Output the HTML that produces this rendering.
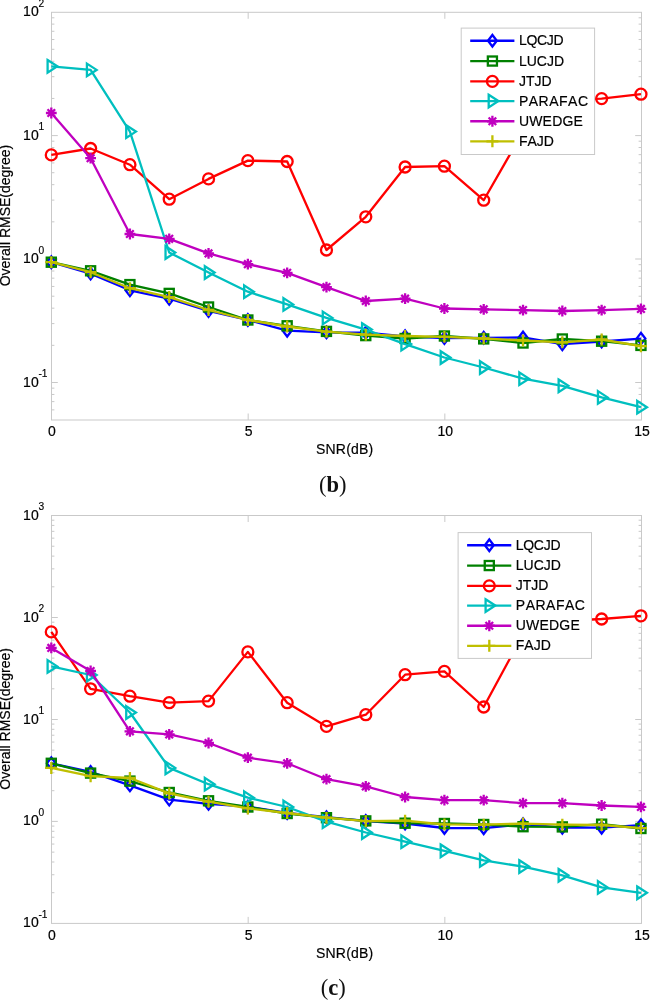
<!DOCTYPE html>
<html><head><meta charset="utf-8"><title>Overall RMSE vs SNR</title>
<style>
html,body{margin:0;padding:0;background:#fff}
svg{display:block}
.t{font-family:"Liberation Sans",Arial,Helvetica,sans-serif;font-size:14px;fill:#000;stroke:#000;stroke-width:0.18px;font-kerning:none}
.e{font-family:"Liberation Sans",Arial,Helvetica,sans-serif;font-size:10.2px;fill:#000;stroke:#000;stroke-width:0.15px}
.cap{font-family:"Liberation Serif","Times New Roman",serif;font-size:22.5px;fill:#111}
</style></head><body>
<svg width="650" height="1000" viewBox="0 0 650 1000">
<rect width="650" height="1000" fill="#fff"/>
<g id="panel-b">
<rect x="51.5" y="12.3" width="590.0" height="407.70" fill="none" stroke="#c9c9c9" stroke-width="1"/>
<path d="M248.17 420.0v-6.5M248.17 12.3v6.5M444.83 420.0v-6.5M444.83 12.3v6.5M51.5 135.60h6.3M641.5 135.60h-6.3M51.5 98.44h2.9M641.5 98.44h-2.9M51.5 76.70h2.9M641.5 76.70h-2.9M51.5 61.28h2.9M641.5 61.28h-2.9M51.5 49.31h2.9M641.5 49.31h-2.9M51.5 39.54h2.9M641.5 39.54h-2.9M51.5 31.27h2.9M641.5 31.27h-2.9M51.5 24.11h2.9M641.5 24.11h-2.9M51.5 17.80h2.9M641.5 17.80h-2.9M51.5 259.00h6.3M641.5 259.00h-6.3M51.5 221.84h2.9M641.5 221.84h-2.9M51.5 200.10h2.9M641.5 200.10h-2.9M51.5 184.68h2.9M641.5 184.68h-2.9M51.5 172.71h2.9M641.5 172.71h-2.9M51.5 162.94h2.9M641.5 162.94h-2.9M51.5 154.67h2.9M641.5 154.67h-2.9M51.5 147.51h2.9M641.5 147.51h-2.9M51.5 141.20h2.9M641.5 141.20h-2.9M51.5 382.50h6.3M641.5 382.50h-6.3M51.5 345.34h2.9M641.5 345.34h-2.9M51.5 323.60h2.9M641.5 323.60h-2.9M51.5 308.18h2.9M641.5 308.18h-2.9M51.5 296.21h2.9M641.5 296.21h-2.9M51.5 286.44h2.9M641.5 286.44h-2.9M51.5 278.17h2.9M641.5 278.17h-2.9M51.5 271.01h2.9M641.5 271.01h-2.9M51.5 264.70h2.9M641.5 264.70h-2.9M51.5 409.89h2.9M641.5 409.89h-2.9M51.5 401.62h2.9M641.5 401.62h-2.9M51.5 394.46h2.9M641.5 394.46h-2.9M51.5 388.15h2.9M641.5 388.15h-2.9" fill="none" stroke="#c9c9c9" stroke-width="1"/>
<polyline points="51.30,262.20 90.61,273.60 129.92,290.30 169.23,298.70 208.54,311.00 247.85,320.00 287.16,330.70 326.47,332.40 365.78,332.70 405.09,336.30 444.40,338.10 483.71,337.80 523.02,337.50 562.33,344.20 601.64,341.50 640.95,338.60" fill="none" stroke="#0000ff" stroke-width="2.3" stroke-linejoin="round"/>
<path d="M46.90 262.20L51.30 256.40L55.70 262.20L51.30 268.00Z" fill="none" stroke="#0000ff" stroke-width="2.3"/>
<path d="M86.21 273.60L90.61 267.80L95.01 273.60L90.61 279.40Z" fill="none" stroke="#0000ff" stroke-width="2.3"/>
<path d="M125.52 290.30L129.92 284.50L134.32 290.30L129.92 296.10Z" fill="none" stroke="#0000ff" stroke-width="2.3"/>
<path d="M164.83 298.70L169.23 292.90L173.63 298.70L169.23 304.50Z" fill="none" stroke="#0000ff" stroke-width="2.3"/>
<path d="M204.14 311.00L208.54 305.20L212.94 311.00L208.54 316.80Z" fill="none" stroke="#0000ff" stroke-width="2.3"/>
<path d="M243.45 320.00L247.85 314.20L252.25 320.00L247.85 325.80Z" fill="none" stroke="#0000ff" stroke-width="2.3"/>
<path d="M282.76 330.70L287.16 324.90L291.56 330.70L287.16 336.50Z" fill="none" stroke="#0000ff" stroke-width="2.3"/>
<path d="M322.07 332.40L326.47 326.60L330.87 332.40L326.47 338.20Z" fill="none" stroke="#0000ff" stroke-width="2.3"/>
<path d="M361.38 332.70L365.78 326.90L370.18 332.70L365.78 338.50Z" fill="none" stroke="#0000ff" stroke-width="2.3"/>
<path d="M400.69 336.30L405.09 330.50L409.49 336.30L405.09 342.10Z" fill="none" stroke="#0000ff" stroke-width="2.3"/>
<path d="M440.00 338.10L444.40 332.30L448.80 338.10L444.40 343.90Z" fill="none" stroke="#0000ff" stroke-width="2.3"/>
<path d="M479.31 337.80L483.71 332.00L488.11 337.80L483.71 343.60Z" fill="none" stroke="#0000ff" stroke-width="2.3"/>
<path d="M518.62 337.50L523.02 331.70L527.42 337.50L523.02 343.30Z" fill="none" stroke="#0000ff" stroke-width="2.3"/>
<path d="M557.93 344.20L562.33 338.40L566.73 344.20L562.33 350.00Z" fill="none" stroke="#0000ff" stroke-width="2.3"/>
<path d="M597.24 341.50L601.64 335.70L606.04 341.50L601.64 347.30Z" fill="none" stroke="#0000ff" stroke-width="2.3"/>
<path d="M636.55 338.60L640.95 332.80L645.35 338.60L640.95 344.40Z" fill="none" stroke="#0000ff" stroke-width="2.3"/>
<polyline points="51.30,262.20 90.61,270.80 129.92,284.60 169.23,293.40 208.54,307.00 247.85,320.00 287.16,325.80 326.47,331.40 365.78,335.60 405.09,338.50 444.40,336.00 483.71,338.90 523.02,343.00 562.33,339.00 601.64,341.20 640.95,345.40" fill="none" stroke="#008000" stroke-width="2.3" stroke-linejoin="round"/>
<rect x="46.75" y="257.65" width="9.1" height="9.1" fill="none" stroke="#008000" stroke-width="2.3"/>
<rect x="86.06" y="266.25" width="9.1" height="9.1" fill="none" stroke="#008000" stroke-width="2.3"/>
<rect x="125.37" y="280.05" width="9.1" height="9.1" fill="none" stroke="#008000" stroke-width="2.3"/>
<rect x="164.68" y="288.85" width="9.1" height="9.1" fill="none" stroke="#008000" stroke-width="2.3"/>
<rect x="203.99" y="302.45" width="9.1" height="9.1" fill="none" stroke="#008000" stroke-width="2.3"/>
<rect x="243.30" y="315.45" width="9.1" height="9.1" fill="none" stroke="#008000" stroke-width="2.3"/>
<rect x="282.61" y="321.25" width="9.1" height="9.1" fill="none" stroke="#008000" stroke-width="2.3"/>
<rect x="321.92" y="326.85" width="9.1" height="9.1" fill="none" stroke="#008000" stroke-width="2.3"/>
<rect x="361.23" y="331.05" width="9.1" height="9.1" fill="none" stroke="#008000" stroke-width="2.3"/>
<rect x="400.54" y="333.95" width="9.1" height="9.1" fill="none" stroke="#008000" stroke-width="2.3"/>
<rect x="439.85" y="331.45" width="9.1" height="9.1" fill="none" stroke="#008000" stroke-width="2.3"/>
<rect x="479.16" y="334.35" width="9.1" height="9.1" fill="none" stroke="#008000" stroke-width="2.3"/>
<rect x="518.47" y="338.45" width="9.1" height="9.1" fill="none" stroke="#008000" stroke-width="2.3"/>
<rect x="557.78" y="334.45" width="9.1" height="9.1" fill="none" stroke="#008000" stroke-width="2.3"/>
<rect x="597.09" y="336.65" width="9.1" height="9.1" fill="none" stroke="#008000" stroke-width="2.3"/>
<rect x="636.40" y="340.85" width="9.1" height="9.1" fill="none" stroke="#008000" stroke-width="2.3"/>
<polyline points="51.30,154.90 90.61,148.50 129.92,164.70 169.23,199.20 208.54,178.90 247.85,160.60 287.16,161.50 326.47,250.00 365.78,216.80 405.09,167.00 444.40,166.20 483.71,200.20 523.02,131.70 562.33,100.20 601.64,98.60 640.95,94.20" fill="none" stroke="#ff0000" stroke-width="2.3" stroke-linejoin="round"/>
<circle cx="51.30" cy="154.90" r="5.5" fill="none" stroke="#ff0000" stroke-width="2.3"/>
<circle cx="90.61" cy="148.50" r="5.5" fill="none" stroke="#ff0000" stroke-width="2.3"/>
<circle cx="129.92" cy="164.70" r="5.5" fill="none" stroke="#ff0000" stroke-width="2.3"/>
<circle cx="169.23" cy="199.20" r="5.5" fill="none" stroke="#ff0000" stroke-width="2.3"/>
<circle cx="208.54" cy="178.90" r="5.5" fill="none" stroke="#ff0000" stroke-width="2.3"/>
<circle cx="247.85" cy="160.60" r="5.5" fill="none" stroke="#ff0000" stroke-width="2.3"/>
<circle cx="287.16" cy="161.50" r="5.5" fill="none" stroke="#ff0000" stroke-width="2.3"/>
<circle cx="326.47" cy="250.00" r="5.5" fill="none" stroke="#ff0000" stroke-width="2.3"/>
<circle cx="365.78" cy="216.80" r="5.5" fill="none" stroke="#ff0000" stroke-width="2.3"/>
<circle cx="405.09" cy="167.00" r="5.5" fill="none" stroke="#ff0000" stroke-width="2.3"/>
<circle cx="444.40" cy="166.20" r="5.5" fill="none" stroke="#ff0000" stroke-width="2.3"/>
<circle cx="483.71" cy="200.20" r="5.5" fill="none" stroke="#ff0000" stroke-width="2.3"/>
<circle cx="523.02" cy="131.70" r="5.5" fill="none" stroke="#ff0000" stroke-width="2.3"/>
<circle cx="562.33" cy="100.20" r="5.5" fill="none" stroke="#ff0000" stroke-width="2.3"/>
<circle cx="601.64" cy="98.60" r="5.5" fill="none" stroke="#ff0000" stroke-width="2.3"/>
<circle cx="640.95" cy="94.20" r="5.5" fill="none" stroke="#ff0000" stroke-width="2.3"/>
<polyline points="51.30,66.30 90.61,69.90 129.92,131.60 169.23,252.50 208.54,272.50 247.85,291.70 287.16,304.40 326.47,317.90 365.78,329.60 405.09,344.10 444.40,357.50 483.71,367.50 523.02,378.70 562.33,385.80 601.64,397.40 640.95,407.20" fill="none" stroke="#00bfbf" stroke-width="2.3" stroke-linejoin="round"/>
<path d="M47.60 60.00L57.30 66.30L47.60 72.60Z" fill="none" stroke="#00bfbf" stroke-width="2.3"/>
<path d="M86.91 63.60L96.61 69.90L86.91 76.20Z" fill="none" stroke="#00bfbf" stroke-width="2.3"/>
<path d="M126.22 125.30L135.92 131.60L126.22 137.90Z" fill="none" stroke="#00bfbf" stroke-width="2.3"/>
<path d="M165.53 246.20L175.23 252.50L165.53 258.80Z" fill="none" stroke="#00bfbf" stroke-width="2.3"/>
<path d="M204.84 266.20L214.54 272.50L204.84 278.80Z" fill="none" stroke="#00bfbf" stroke-width="2.3"/>
<path d="M244.15 285.40L253.85 291.70L244.15 298.00Z" fill="none" stroke="#00bfbf" stroke-width="2.3"/>
<path d="M283.46 298.10L293.16 304.40L283.46 310.70Z" fill="none" stroke="#00bfbf" stroke-width="2.3"/>
<path d="M322.77 311.60L332.47 317.90L322.77 324.20Z" fill="none" stroke="#00bfbf" stroke-width="2.3"/>
<path d="M362.08 323.30L371.78 329.60L362.08 335.90Z" fill="none" stroke="#00bfbf" stroke-width="2.3"/>
<path d="M401.39 337.80L411.09 344.10L401.39 350.40Z" fill="none" stroke="#00bfbf" stroke-width="2.3"/>
<path d="M440.70 351.20L450.40 357.50L440.70 363.80Z" fill="none" stroke="#00bfbf" stroke-width="2.3"/>
<path d="M480.01 361.20L489.71 367.50L480.01 373.80Z" fill="none" stroke="#00bfbf" stroke-width="2.3"/>
<path d="M519.32 372.40L529.02 378.70L519.32 385.00Z" fill="none" stroke="#00bfbf" stroke-width="2.3"/>
<path d="M558.63 379.50L568.33 385.80L558.63 392.10Z" fill="none" stroke="#00bfbf" stroke-width="2.3"/>
<path d="M597.94 391.10L607.64 397.40L597.94 403.70Z" fill="none" stroke="#00bfbf" stroke-width="2.3"/>
<path d="M637.25 400.90L646.95 407.20L637.25 413.50Z" fill="none" stroke="#00bfbf" stroke-width="2.3"/>
<polyline points="51.30,113.00 90.61,158.20 129.92,234.00 169.23,238.80 208.54,253.40 247.85,264.20 287.16,272.80 326.47,287.10 365.78,301.00 405.09,298.70 444.40,308.50 483.71,309.30 523.02,310.10 562.33,311.00 601.64,310.10 640.95,308.90" fill="none" stroke="#bf00bf" stroke-width="2.3" stroke-linejoin="round"/>
<path d="M45.90 113.00H56.70M51.30 107.60V118.40M47.50 109.20L55.10 116.80M47.50 116.80L55.10 109.20" fill="none" stroke="#bf00bf" stroke-width="2.3"/>
<path d="M85.21 158.20H96.01M90.61 152.80V163.60M86.81 154.40L94.41 162.00M86.81 162.00L94.41 154.40" fill="none" stroke="#bf00bf" stroke-width="2.3"/>
<path d="M124.52 234.00H135.32M129.92 228.60V239.40M126.12 230.20L133.72 237.80M126.12 237.80L133.72 230.20" fill="none" stroke="#bf00bf" stroke-width="2.3"/>
<path d="M163.83 238.80H174.63M169.23 233.40V244.20M165.43 235.00L173.03 242.60M165.43 242.60L173.03 235.00" fill="none" stroke="#bf00bf" stroke-width="2.3"/>
<path d="M203.14 253.40H213.94M208.54 248.00V258.80M204.74 249.60L212.34 257.20M204.74 257.20L212.34 249.60" fill="none" stroke="#bf00bf" stroke-width="2.3"/>
<path d="M242.45 264.20H253.25M247.85 258.80V269.60M244.05 260.40L251.65 268.00M244.05 268.00L251.65 260.40" fill="none" stroke="#bf00bf" stroke-width="2.3"/>
<path d="M281.76 272.80H292.56M287.16 267.40V278.20M283.36 269.00L290.96 276.60M283.36 276.60L290.96 269.00" fill="none" stroke="#bf00bf" stroke-width="2.3"/>
<path d="M321.07 287.10H331.87M326.47 281.70V292.50M322.67 283.30L330.27 290.90M322.67 290.90L330.27 283.30" fill="none" stroke="#bf00bf" stroke-width="2.3"/>
<path d="M360.38 301.00H371.18M365.78 295.60V306.40M361.98 297.20L369.58 304.80M361.98 304.80L369.58 297.20" fill="none" stroke="#bf00bf" stroke-width="2.3"/>
<path d="M399.69 298.70H410.49M405.09 293.30V304.10M401.29 294.90L408.89 302.50M401.29 302.50L408.89 294.90" fill="none" stroke="#bf00bf" stroke-width="2.3"/>
<path d="M439.00 308.50H449.80M444.40 303.10V313.90M440.60 304.70L448.20 312.30M440.60 312.30L448.20 304.70" fill="none" stroke="#bf00bf" stroke-width="2.3"/>
<path d="M478.31 309.30H489.11M483.71 303.90V314.70M479.91 305.50L487.51 313.10M479.91 313.10L487.51 305.50" fill="none" stroke="#bf00bf" stroke-width="2.3"/>
<path d="M517.62 310.10H528.42M523.02 304.70V315.50M519.22 306.30L526.82 313.90M519.22 313.90L526.82 306.30" fill="none" stroke="#bf00bf" stroke-width="2.3"/>
<path d="M556.93 311.00H567.73M562.33 305.60V316.40M558.53 307.20L566.13 314.80M558.53 314.80L566.13 307.20" fill="none" stroke="#bf00bf" stroke-width="2.3"/>
<path d="M596.24 310.10H607.04M601.64 304.70V315.50M597.84 306.30L605.44 313.90M597.84 313.90L605.44 306.30" fill="none" stroke="#bf00bf" stroke-width="2.3"/>
<path d="M635.55 308.90H646.35M640.95 303.50V314.30M637.15 305.10L644.75 312.70M637.15 312.70L644.75 305.10" fill="none" stroke="#bf00bf" stroke-width="2.3"/>
<polyline points="51.30,262.20 90.61,272.20 129.92,288.20 169.23,297.10 208.54,310.00 247.85,320.00 287.16,326.50 326.47,331.70 365.78,334.70 405.09,336.00 444.40,336.80 483.71,338.50 523.02,340.50 562.33,342.30 601.64,339.50 640.95,346.20" fill="none" stroke="#bfbf00" stroke-width="2.3" stroke-linejoin="round"/>
<path d="M45.30 262.20H57.30M51.30 256.20V268.20" fill="none" stroke="#bfbf00" stroke-width="2.3"/>
<path d="M84.61 272.20H96.61M90.61 266.20V278.20" fill="none" stroke="#bfbf00" stroke-width="2.3"/>
<path d="M123.92 288.20H135.92M129.92 282.20V294.20" fill="none" stroke="#bfbf00" stroke-width="2.3"/>
<path d="M163.23 297.10H175.23M169.23 291.10V303.10" fill="none" stroke="#bfbf00" stroke-width="2.3"/>
<path d="M202.54 310.00H214.54M208.54 304.00V316.00" fill="none" stroke="#bfbf00" stroke-width="2.3"/>
<path d="M241.85 320.00H253.85M247.85 314.00V326.00" fill="none" stroke="#bfbf00" stroke-width="2.3"/>
<path d="M281.16 326.50H293.16M287.16 320.50V332.50" fill="none" stroke="#bfbf00" stroke-width="2.3"/>
<path d="M320.47 331.70H332.47M326.47 325.70V337.70" fill="none" stroke="#bfbf00" stroke-width="2.3"/>
<path d="M359.78 334.70H371.78M365.78 328.70V340.70" fill="none" stroke="#bfbf00" stroke-width="2.3"/>
<path d="M399.09 336.00H411.09M405.09 330.00V342.00" fill="none" stroke="#bfbf00" stroke-width="2.3"/>
<path d="M438.40 336.80H450.40M444.40 330.80V342.80" fill="none" stroke="#bfbf00" stroke-width="2.3"/>
<path d="M477.71 338.50H489.71M483.71 332.50V344.50" fill="none" stroke="#bfbf00" stroke-width="2.3"/>
<path d="M517.02 340.50H529.02M523.02 334.50V346.50" fill="none" stroke="#bfbf00" stroke-width="2.3"/>
<path d="M556.33 342.30H568.33M562.33 336.30V348.30" fill="none" stroke="#bfbf00" stroke-width="2.3"/>
<path d="M595.64 339.50H607.64M601.64 333.50V345.50" fill="none" stroke="#bfbf00" stroke-width="2.3"/>
<path d="M634.95 346.20H646.95M640.95 340.20V352.20" fill="none" stroke="#bfbf00" stroke-width="2.3"/>
<text x="52.00" y="436.30" text-anchor="middle" class="t">0</text>
<text x="248.67" y="436.30" text-anchor="middle" class="t">5</text>
<text x="445.33" y="436.30" text-anchor="middle" class="t">10</text>
<text x="642.00" y="436.30" text-anchor="middle" class="t">15</text>
<text x="23.1" y="16.30" class="t">10</text>
<text x="38.4" y="7.10" class="e">2</text>
<text x="23.1" y="139.60" class="t">10</text>
<text x="38.4" y="130.40" class="e">1</text>
<text x="23.1" y="263.00" class="t">10</text>
<text x="38.4" y="253.80" class="e">0</text>
<text x="23.1" y="386.50" class="t">10</text>
<text x="38.4" y="377.30" class="e">-1</text>
<text x="316" y="453.90" class="t" letter-spacing="0.2">SNR(dB)</text>
<text transform="translate(9.8 286.35) rotate(-90)" class="t">Overall RMSE(degree)</text>
<rect x="461.2" y="28.1" width="133.4" height="126.4" fill="#fff" stroke="#c9c9c9" stroke-width="1"/>
<path d="M470.20 40.75H514.40" stroke="#0000ff" stroke-width="2.3" fill="none"/>
<path d="M488.00 40.75L492.40 34.95L496.80 40.75L492.40 46.55Z" fill="none" stroke="#0000ff" stroke-width="2.3"/>
<text x="518.90" y="45.35" class="t" letter-spacing="-0.3">LQCJD</text>
<path d="M470.20 61.05H514.40" stroke="#008000" stroke-width="2.3" fill="none"/>
<rect x="487.85" y="56.50" width="9.1" height="9.1" fill="none" stroke="#008000" stroke-width="2.3"/>
<text x="518.90" y="65.65" class="t">LUCJD</text>
<path d="M470.20 81.35H514.40" stroke="#ff0000" stroke-width="2.3" fill="none"/>
<circle cx="492.40" cy="81.35" r="5.5" fill="none" stroke="#ff0000" stroke-width="2.3"/>
<text x="518.90" y="85.95" class="t">JTJD</text>
<path d="M470.20 101.05H514.40" stroke="#00bfbf" stroke-width="2.3" fill="none"/>
<path d="M488.70 94.75L498.40 101.05L488.70 107.35Z" fill="none" stroke="#00bfbf" stroke-width="2.3"/>
<text x="518.90" y="105.65" class="t" letter-spacing="0.5">PARAFAC</text>
<path d="M470.20 121.25H514.40" stroke="#bf00bf" stroke-width="2.3" fill="none"/>
<path d="M487.00 121.25H497.80M492.40 115.85V126.65M488.60 117.45L496.20 125.05M488.60 125.05L496.20 117.45" fill="none" stroke="#bf00bf" stroke-width="2.3"/>
<text x="518.90" y="125.85" class="t" letter-spacing="0.2">UWEDGE</text>
<path d="M470.20 141.35H514.40" stroke="#bfbf00" stroke-width="2.3" fill="none"/>
<path d="M486.40 141.35H498.40M492.40 135.35V147.35" fill="none" stroke="#bfbf00" stroke-width="2.3"/>
<text x="518.90" y="145.95" class="t">FAJD</text>
<text x="319.10" y="491.5" class="cap">(<tspan font-weight="bold">b</tspan>)</text>
</g>
<g id="panel-c">
<rect x="51.5" y="515.5" width="590.0" height="407.90" fill="none" stroke="#c9c9c9" stroke-width="1"/>
<path d="M248.17 923.4v-6.5M248.17 515.5v6.5M444.83 923.4v-6.5M444.83 515.5v6.5M51.5 617.50h6.3M641.5 617.50h-6.3M51.5 586.80h2.9M641.5 586.80h-2.9M51.5 568.85h2.9M641.5 568.85h-2.9M51.5 556.11h2.9M641.5 556.11h-2.9M51.5 546.23h2.9M641.5 546.23h-2.9M51.5 538.15h2.9M641.5 538.15h-2.9M51.5 531.33h2.9M641.5 531.33h-2.9M51.5 525.41h2.9M641.5 525.41h-2.9M51.5 520.20h2.9M641.5 520.20h-2.9M51.5 719.50h6.3M641.5 719.50h-6.3M51.5 688.80h2.9M641.5 688.80h-2.9M51.5 670.85h2.9M641.5 670.85h-2.9M51.5 658.11h2.9M641.5 658.11h-2.9M51.5 648.23h2.9M641.5 648.23h-2.9M51.5 640.15h2.9M641.5 640.15h-2.9M51.5 633.33h2.9M641.5 633.33h-2.9M51.5 627.41h2.9M641.5 627.41h-2.9M51.5 622.20h2.9M641.5 622.20h-2.9M51.5 821.40h6.3M641.5 821.40h-6.3M51.5 790.70h2.9M641.5 790.70h-2.9M51.5 772.75h2.9M641.5 772.75h-2.9M51.5 760.01h2.9M641.5 760.01h-2.9M51.5 750.13h2.9M641.5 750.13h-2.9M51.5 742.05h2.9M641.5 742.05h-2.9M51.5 735.23h2.9M641.5 735.23h-2.9M51.5 729.31h2.9M641.5 729.31h-2.9M51.5 724.10h2.9M641.5 724.10h-2.9M51.5 892.70h2.9M641.5 892.70h-2.9M51.5 874.75h2.9M641.5 874.75h-2.9M51.5 862.01h2.9M641.5 862.01h-2.9M51.5 852.13h2.9M641.5 852.13h-2.9M51.5 844.05h2.9M641.5 844.05h-2.9M51.5 837.23h2.9M641.5 837.23h-2.9M51.5 831.31h2.9M641.5 831.31h-2.9M51.5 826.10h2.9M641.5 826.10h-2.9" fill="none" stroke="#c9c9c9" stroke-width="1"/>
<polyline points="51.30,763.30 90.61,771.90 129.92,785.40 169.23,799.60 208.54,803.90 247.85,806.70 287.16,813.00 326.47,817.20 365.78,821.00 405.09,823.50 444.40,828.00 483.71,828.20 523.02,824.20 562.33,827.70 601.64,827.70 640.95,825.20" fill="none" stroke="#0000ff" stroke-width="2.3" stroke-linejoin="round"/>
<path d="M46.90 763.30L51.30 757.50L55.70 763.30L51.30 769.10Z" fill="none" stroke="#0000ff" stroke-width="2.3"/>
<path d="M86.21 771.90L90.61 766.10L95.01 771.90L90.61 777.70Z" fill="none" stroke="#0000ff" stroke-width="2.3"/>
<path d="M125.52 785.40L129.92 779.60L134.32 785.40L129.92 791.20Z" fill="none" stroke="#0000ff" stroke-width="2.3"/>
<path d="M164.83 799.60L169.23 793.80L173.63 799.60L169.23 805.40Z" fill="none" stroke="#0000ff" stroke-width="2.3"/>
<path d="M204.14 803.90L208.54 798.10L212.94 803.90L208.54 809.70Z" fill="none" stroke="#0000ff" stroke-width="2.3"/>
<path d="M243.45 806.70L247.85 800.90L252.25 806.70L247.85 812.50Z" fill="none" stroke="#0000ff" stroke-width="2.3"/>
<path d="M282.76 813.00L287.16 807.20L291.56 813.00L287.16 818.80Z" fill="none" stroke="#0000ff" stroke-width="2.3"/>
<path d="M322.07 817.20L326.47 811.40L330.87 817.20L326.47 823.00Z" fill="none" stroke="#0000ff" stroke-width="2.3"/>
<path d="M361.38 821.00L365.78 815.20L370.18 821.00L365.78 826.80Z" fill="none" stroke="#0000ff" stroke-width="2.3"/>
<path d="M400.69 823.50L405.09 817.70L409.49 823.50L405.09 829.30Z" fill="none" stroke="#0000ff" stroke-width="2.3"/>
<path d="M440.00 828.00L444.40 822.20L448.80 828.00L444.40 833.80Z" fill="none" stroke="#0000ff" stroke-width="2.3"/>
<path d="M479.31 828.20L483.71 822.40L488.11 828.20L483.71 834.00Z" fill="none" stroke="#0000ff" stroke-width="2.3"/>
<path d="M518.62 824.20L523.02 818.40L527.42 824.20L523.02 830.00Z" fill="none" stroke="#0000ff" stroke-width="2.3"/>
<path d="M557.93 827.70L562.33 821.90L566.73 827.70L562.33 833.50Z" fill="none" stroke="#0000ff" stroke-width="2.3"/>
<path d="M597.24 827.70L601.64 821.90L606.04 827.70L601.64 833.50Z" fill="none" stroke="#0000ff" stroke-width="2.3"/>
<path d="M636.55 825.20L640.95 819.40L645.35 825.20L640.95 831.00Z" fill="none" stroke="#0000ff" stroke-width="2.3"/>
<polyline points="51.30,763.30 90.61,773.10 129.92,781.10 169.23,792.50 208.54,800.80 247.85,807.00 287.16,813.50 326.47,817.70 365.78,820.90 405.09,823.20 444.40,823.50 483.71,824.50 523.02,826.70 562.33,826.90 601.64,824.20 640.95,828.50" fill="none" stroke="#008000" stroke-width="2.3" stroke-linejoin="round"/>
<rect x="46.75" y="758.75" width="9.1" height="9.1" fill="none" stroke="#008000" stroke-width="2.3"/>
<rect x="86.06" y="768.55" width="9.1" height="9.1" fill="none" stroke="#008000" stroke-width="2.3"/>
<rect x="125.37" y="776.55" width="9.1" height="9.1" fill="none" stroke="#008000" stroke-width="2.3"/>
<rect x="164.68" y="787.95" width="9.1" height="9.1" fill="none" stroke="#008000" stroke-width="2.3"/>
<rect x="203.99" y="796.25" width="9.1" height="9.1" fill="none" stroke="#008000" stroke-width="2.3"/>
<rect x="243.30" y="802.45" width="9.1" height="9.1" fill="none" stroke="#008000" stroke-width="2.3"/>
<rect x="282.61" y="808.95" width="9.1" height="9.1" fill="none" stroke="#008000" stroke-width="2.3"/>
<rect x="321.92" y="813.15" width="9.1" height="9.1" fill="none" stroke="#008000" stroke-width="2.3"/>
<rect x="361.23" y="816.35" width="9.1" height="9.1" fill="none" stroke="#008000" stroke-width="2.3"/>
<rect x="400.54" y="818.65" width="9.1" height="9.1" fill="none" stroke="#008000" stroke-width="2.3"/>
<rect x="439.85" y="818.95" width="9.1" height="9.1" fill="none" stroke="#008000" stroke-width="2.3"/>
<rect x="479.16" y="819.95" width="9.1" height="9.1" fill="none" stroke="#008000" stroke-width="2.3"/>
<rect x="518.47" y="822.15" width="9.1" height="9.1" fill="none" stroke="#008000" stroke-width="2.3"/>
<rect x="557.78" y="822.35" width="9.1" height="9.1" fill="none" stroke="#008000" stroke-width="2.3"/>
<rect x="597.09" y="819.65" width="9.1" height="9.1" fill="none" stroke="#008000" stroke-width="2.3"/>
<rect x="636.40" y="823.95" width="9.1" height="9.1" fill="none" stroke="#008000" stroke-width="2.3"/>
<polyline points="51.30,631.90 90.61,688.80 129.92,696.20 169.23,702.70 208.54,701.10 247.85,651.90 287.16,702.70 326.47,726.40 365.78,714.70 405.09,674.70 444.40,671.40 483.71,707.00 523.02,634.40 562.33,621.00 601.64,619.00 640.95,615.80" fill="none" stroke="#ff0000" stroke-width="2.3" stroke-linejoin="round"/>
<circle cx="51.30" cy="631.90" r="5.5" fill="none" stroke="#ff0000" stroke-width="2.3"/>
<circle cx="90.61" cy="688.80" r="5.5" fill="none" stroke="#ff0000" stroke-width="2.3"/>
<circle cx="129.92" cy="696.20" r="5.5" fill="none" stroke="#ff0000" stroke-width="2.3"/>
<circle cx="169.23" cy="702.70" r="5.5" fill="none" stroke="#ff0000" stroke-width="2.3"/>
<circle cx="208.54" cy="701.10" r="5.5" fill="none" stroke="#ff0000" stroke-width="2.3"/>
<circle cx="247.85" cy="651.90" r="5.5" fill="none" stroke="#ff0000" stroke-width="2.3"/>
<circle cx="287.16" cy="702.70" r="5.5" fill="none" stroke="#ff0000" stroke-width="2.3"/>
<circle cx="326.47" cy="726.40" r="5.5" fill="none" stroke="#ff0000" stroke-width="2.3"/>
<circle cx="365.78" cy="714.70" r="5.5" fill="none" stroke="#ff0000" stroke-width="2.3"/>
<circle cx="405.09" cy="674.70" r="5.5" fill="none" stroke="#ff0000" stroke-width="2.3"/>
<circle cx="444.40" cy="671.40" r="5.5" fill="none" stroke="#ff0000" stroke-width="2.3"/>
<circle cx="483.71" cy="707.00" r="5.5" fill="none" stroke="#ff0000" stroke-width="2.3"/>
<circle cx="523.02" cy="634.40" r="5.5" fill="none" stroke="#ff0000" stroke-width="2.3"/>
<circle cx="562.33" cy="621.00" r="5.5" fill="none" stroke="#ff0000" stroke-width="2.3"/>
<circle cx="601.64" cy="619.00" r="5.5" fill="none" stroke="#ff0000" stroke-width="2.3"/>
<circle cx="640.95" cy="615.80" r="5.5" fill="none" stroke="#ff0000" stroke-width="2.3"/>
<polyline points="51.30,666.40 90.61,675.00 129.92,712.50 169.23,767.90 208.54,784.20 247.85,797.70 287.16,807.00 326.47,821.70 365.78,832.50 405.09,841.70 444.40,850.80 483.71,860.40 523.02,866.60 562.33,875.30 601.64,887.40 640.95,892.80" fill="none" stroke="#00bfbf" stroke-width="2.3" stroke-linejoin="round"/>
<path d="M47.60 660.10L57.30 666.40L47.60 672.70Z" fill="none" stroke="#00bfbf" stroke-width="2.3"/>
<path d="M86.91 668.70L96.61 675.00L86.91 681.30Z" fill="none" stroke="#00bfbf" stroke-width="2.3"/>
<path d="M126.22 706.20L135.92 712.50L126.22 718.80Z" fill="none" stroke="#00bfbf" stroke-width="2.3"/>
<path d="M165.53 761.60L175.23 767.90L165.53 774.20Z" fill="none" stroke="#00bfbf" stroke-width="2.3"/>
<path d="M204.84 777.90L214.54 784.20L204.84 790.50Z" fill="none" stroke="#00bfbf" stroke-width="2.3"/>
<path d="M244.15 791.40L253.85 797.70L244.15 804.00Z" fill="none" stroke="#00bfbf" stroke-width="2.3"/>
<path d="M283.46 800.70L293.16 807.00L283.46 813.30Z" fill="none" stroke="#00bfbf" stroke-width="2.3"/>
<path d="M322.77 815.40L332.47 821.70L322.77 828.00Z" fill="none" stroke="#00bfbf" stroke-width="2.3"/>
<path d="M362.08 826.20L371.78 832.50L362.08 838.80Z" fill="none" stroke="#00bfbf" stroke-width="2.3"/>
<path d="M401.39 835.40L411.09 841.70L401.39 848.00Z" fill="none" stroke="#00bfbf" stroke-width="2.3"/>
<path d="M440.70 844.50L450.40 850.80L440.70 857.10Z" fill="none" stroke="#00bfbf" stroke-width="2.3"/>
<path d="M480.01 854.10L489.71 860.40L480.01 866.70Z" fill="none" stroke="#00bfbf" stroke-width="2.3"/>
<path d="M519.32 860.30L529.02 866.60L519.32 872.90Z" fill="none" stroke="#00bfbf" stroke-width="2.3"/>
<path d="M558.63 869.00L568.33 875.30L558.63 881.60Z" fill="none" stroke="#00bfbf" stroke-width="2.3"/>
<path d="M597.94 881.10L607.64 887.40L597.94 893.70Z" fill="none" stroke="#00bfbf" stroke-width="2.3"/>
<path d="M637.25 886.50L646.95 892.80L637.25 899.10Z" fill="none" stroke="#00bfbf" stroke-width="2.3"/>
<polyline points="51.30,647.90 90.61,671.00 129.92,731.30 169.23,734.40 208.54,743.00 247.85,757.70 287.16,763.30 326.47,779.20 365.78,786.40 405.09,797.00 444.40,800.20 483.71,800.20 523.02,803.20 562.33,803.20 601.64,805.50 640.95,806.90" fill="none" stroke="#bf00bf" stroke-width="2.3" stroke-linejoin="round"/>
<path d="M45.90 647.90H56.70M51.30 642.50V653.30M47.50 644.10L55.10 651.70M47.50 651.70L55.10 644.10" fill="none" stroke="#bf00bf" stroke-width="2.3"/>
<path d="M85.21 671.00H96.01M90.61 665.60V676.40M86.81 667.20L94.41 674.80M86.81 674.80L94.41 667.20" fill="none" stroke="#bf00bf" stroke-width="2.3"/>
<path d="M124.52 731.30H135.32M129.92 725.90V736.70M126.12 727.50L133.72 735.10M126.12 735.10L133.72 727.50" fill="none" stroke="#bf00bf" stroke-width="2.3"/>
<path d="M163.83 734.40H174.63M169.23 729.00V739.80M165.43 730.60L173.03 738.20M165.43 738.20L173.03 730.60" fill="none" stroke="#bf00bf" stroke-width="2.3"/>
<path d="M203.14 743.00H213.94M208.54 737.60V748.40M204.74 739.20L212.34 746.80M204.74 746.80L212.34 739.20" fill="none" stroke="#bf00bf" stroke-width="2.3"/>
<path d="M242.45 757.70H253.25M247.85 752.30V763.10M244.05 753.90L251.65 761.50M244.05 761.50L251.65 753.90" fill="none" stroke="#bf00bf" stroke-width="2.3"/>
<path d="M281.76 763.30H292.56M287.16 757.90V768.70M283.36 759.50L290.96 767.10M283.36 767.10L290.96 759.50" fill="none" stroke="#bf00bf" stroke-width="2.3"/>
<path d="M321.07 779.20H331.87M326.47 773.80V784.60M322.67 775.40L330.27 783.00M322.67 783.00L330.27 775.40" fill="none" stroke="#bf00bf" stroke-width="2.3"/>
<path d="M360.38 786.40H371.18M365.78 781.00V791.80M361.98 782.60L369.58 790.20M361.98 790.20L369.58 782.60" fill="none" stroke="#bf00bf" stroke-width="2.3"/>
<path d="M399.69 797.00H410.49M405.09 791.60V802.40M401.29 793.20L408.89 800.80M401.29 800.80L408.89 793.20" fill="none" stroke="#bf00bf" stroke-width="2.3"/>
<path d="M439.00 800.20H449.80M444.40 794.80V805.60M440.60 796.40L448.20 804.00M440.60 804.00L448.20 796.40" fill="none" stroke="#bf00bf" stroke-width="2.3"/>
<path d="M478.31 800.20H489.11M483.71 794.80V805.60M479.91 796.40L487.51 804.00M479.91 804.00L487.51 796.40" fill="none" stroke="#bf00bf" stroke-width="2.3"/>
<path d="M517.62 803.20H528.42M523.02 797.80V808.60M519.22 799.40L526.82 807.00M519.22 807.00L526.82 799.40" fill="none" stroke="#bf00bf" stroke-width="2.3"/>
<path d="M556.93 803.20H567.73M562.33 797.80V808.60M558.53 799.40L566.13 807.00M558.53 807.00L566.13 799.40" fill="none" stroke="#bf00bf" stroke-width="2.3"/>
<path d="M596.24 805.50H607.04M601.64 800.10V810.90M597.84 801.70L605.44 809.30M597.84 809.30L605.44 801.70" fill="none" stroke="#bf00bf" stroke-width="2.3"/>
<path d="M635.55 806.90H646.35M640.95 801.50V812.30M637.15 803.10L644.75 810.70M637.15 810.70L644.75 803.10" fill="none" stroke="#bf00bf" stroke-width="2.3"/>
<polyline points="51.30,767.90 90.61,776.20 129.92,778.00 169.23,793.40 208.54,801.70 247.85,808.40 287.16,813.00 326.47,817.70 365.78,821.20 405.09,820.70 444.40,824.40 483.71,824.70 523.02,823.60 562.33,824.70 601.64,825.00 640.95,828.10" fill="none" stroke="#bfbf00" stroke-width="2.3" stroke-linejoin="round"/>
<path d="M45.30 767.90H57.30M51.30 761.90V773.90" fill="none" stroke="#bfbf00" stroke-width="2.3"/>
<path d="M84.61 776.20H96.61M90.61 770.20V782.20" fill="none" stroke="#bfbf00" stroke-width="2.3"/>
<path d="M123.92 778.00H135.92M129.92 772.00V784.00" fill="none" stroke="#bfbf00" stroke-width="2.3"/>
<path d="M163.23 793.40H175.23M169.23 787.40V799.40" fill="none" stroke="#bfbf00" stroke-width="2.3"/>
<path d="M202.54 801.70H214.54M208.54 795.70V807.70" fill="none" stroke="#bfbf00" stroke-width="2.3"/>
<path d="M241.85 808.40H253.85M247.85 802.40V814.40" fill="none" stroke="#bfbf00" stroke-width="2.3"/>
<path d="M281.16 813.00H293.16M287.16 807.00V819.00" fill="none" stroke="#bfbf00" stroke-width="2.3"/>
<path d="M320.47 817.70H332.47M326.47 811.70V823.70" fill="none" stroke="#bfbf00" stroke-width="2.3"/>
<path d="M359.78 821.20H371.78M365.78 815.20V827.20" fill="none" stroke="#bfbf00" stroke-width="2.3"/>
<path d="M399.09 820.70H411.09M405.09 814.70V826.70" fill="none" stroke="#bfbf00" stroke-width="2.3"/>
<path d="M438.40 824.40H450.40M444.40 818.40V830.40" fill="none" stroke="#bfbf00" stroke-width="2.3"/>
<path d="M477.71 824.70H489.71M483.71 818.70V830.70" fill="none" stroke="#bfbf00" stroke-width="2.3"/>
<path d="M517.02 823.60H529.02M523.02 817.60V829.60" fill="none" stroke="#bfbf00" stroke-width="2.3"/>
<path d="M556.33 824.70H568.33M562.33 818.70V830.70" fill="none" stroke="#bfbf00" stroke-width="2.3"/>
<path d="M595.64 825.00H607.64M601.64 819.00V831.00" fill="none" stroke="#bfbf00" stroke-width="2.3"/>
<path d="M634.95 828.10H646.95M640.95 822.10V834.10" fill="none" stroke="#bfbf00" stroke-width="2.3"/>
<text x="52.00" y="939.70" text-anchor="middle" class="t">0</text>
<text x="248.67" y="939.70" text-anchor="middle" class="t">5</text>
<text x="445.33" y="939.70" text-anchor="middle" class="t">10</text>
<text x="642.00" y="939.70" text-anchor="middle" class="t">15</text>
<text x="23.1" y="519.50" class="t">10</text>
<text x="38.4" y="510.30" class="e">3</text>
<text x="23.1" y="621.50" class="t">10</text>
<text x="38.4" y="612.30" class="e">2</text>
<text x="23.1" y="723.50" class="t">10</text>
<text x="38.4" y="714.30" class="e">1</text>
<text x="23.1" y="825.40" class="t">10</text>
<text x="38.4" y="816.20" class="e">0</text>
<text x="23.1" y="927.40" class="t">10</text>
<text x="38.4" y="918.20" class="e">-1</text>
<text x="316" y="958.00" class="t" letter-spacing="0.2">SNR(dB)</text>
<text transform="translate(9.8 789.65) rotate(-90)" class="t">Overall RMSE(degree)</text>
<rect x="458.1" y="532.6" width="133.4" height="125.8" fill="#fff" stroke="#c9c9c9" stroke-width="1"/>
<path d="M467.10 545.25H511.30" stroke="#0000ff" stroke-width="2.3" fill="none"/>
<path d="M484.90 545.25L489.30 539.45L493.70 545.25L489.30 551.05Z" fill="none" stroke="#0000ff" stroke-width="2.3"/>
<text x="515.80" y="549.85" class="t" letter-spacing="-0.3">LQCJD</text>
<path d="M467.10 565.55H511.30" stroke="#008000" stroke-width="2.3" fill="none"/>
<rect x="484.75" y="561.00" width="9.1" height="9.1" fill="none" stroke="#008000" stroke-width="2.3"/>
<text x="515.80" y="570.15" class="t">LUCJD</text>
<path d="M467.10 585.85H511.30" stroke="#ff0000" stroke-width="2.3" fill="none"/>
<circle cx="489.30" cy="585.85" r="5.5" fill="none" stroke="#ff0000" stroke-width="2.3"/>
<text x="515.80" y="590.45" class="t">JTJD</text>
<path d="M467.10 605.55H511.30" stroke="#00bfbf" stroke-width="2.3" fill="none"/>
<path d="M485.60 599.25L495.30 605.55L485.60 611.85Z" fill="none" stroke="#00bfbf" stroke-width="2.3"/>
<text x="515.80" y="610.15" class="t" letter-spacing="0.5">PARAFAC</text>
<path d="M467.10 625.75H511.30" stroke="#bf00bf" stroke-width="2.3" fill="none"/>
<path d="M483.90 625.75H494.70M489.30 620.35V631.15M485.50 621.95L493.10 629.55M485.50 629.55L493.10 621.95" fill="none" stroke="#bf00bf" stroke-width="2.3"/>
<text x="515.80" y="630.35" class="t" letter-spacing="0.2">UWEDGE</text>
<path d="M467.10 645.85H511.30" stroke="#bfbf00" stroke-width="2.3" fill="none"/>
<path d="M483.30 645.85H495.30M489.30 639.85V651.85" fill="none" stroke="#bfbf00" stroke-width="2.3"/>
<text x="515.80" y="650.45" class="t">FAJD</text>
<text x="320.70" y="994.6" class="cap">(<tspan font-weight="bold">c</tspan>)</text>
</g>
</svg>
</body></html>
